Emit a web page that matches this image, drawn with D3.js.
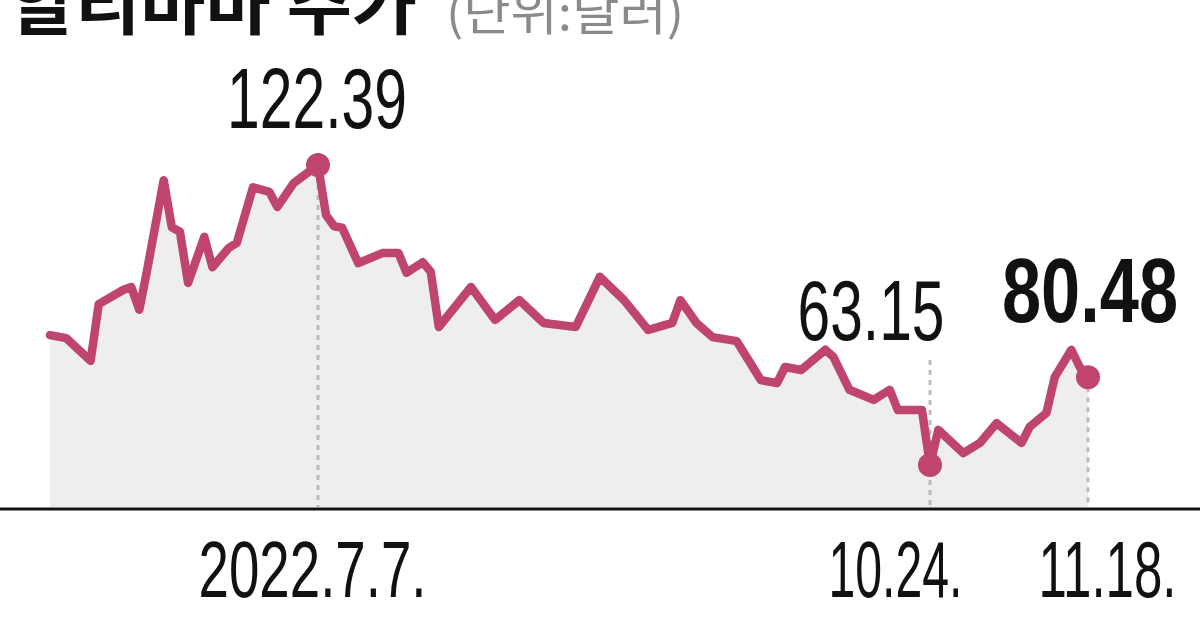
<!DOCTYPE html>
<html>
<head>
<meta charset="utf-8">
<script src="https://cdn.jsdelivr.net/npm/d3@7"></script>
<style>
  html, body { margin: 0; padding: 0; background: #fff; }
  svg { display: block; }
</style>
</head>
<body>
<svg id="chart" width="1200" height="630"></svg>
<script>
// ---- data (trading-day index since start, closing price in USD) ----
const tradeDay = [0, 2, 5, 6, 9, 10, 11, 12, 14, 15, 16, 17, 19, 20, 22, 23, 25, 27, 28, 30,
  33, 34, 35, 36, 38, 41, 43, 44, 46, 47, 48, 52, 55, 58, 61, 65, 68, 71, 74, 77, 78, 80,
  82, 85, 88, 90, 91, 93, 96, 97, 99, 102, 104, 105, 108, 109, 110, 113, 115, 117, 120,
  121, 123, 124, 126, 127, 128];
const price = [88.8, 88.2, 83.7, 94.9, 97.7, 98.3, 93.8, 102.0, 119.4, 110.1, 109.2, 99.1, 108.2, 102.2, 106.0, 107.0, 118.0, 117.1, 114.1, 118.8,
  122.39, 112.5, 110.3, 110.0, 103.0, 105.0, 105.0, 101.1, 103.2, 101.3, 90.4, 98.3, 91.8, 95.7, 91.2, 90.4, 100.3, 95.7, 89.8, 91.2, 95.7, 91.2,
  88.4, 87.6, 79.9, 79.3, 82.5, 81.9, 85.9, 84.5, 78.0, 76.0, 78.0, 74.0, 74.0, 63.15, 70.1, 65.5, 67.5, 71.4, 67.5,
  70.7, 73.4, 80.5, 85.9, 82.5, 80.48];

const tickDays = [33, 109, 128];
const tickLabels = ["2022.7.7.", "10.24.", "11.18."];

const markDays = [33, 109, 128];
const markValues = [122.39, 63.15, 80.48];
const markLabels = ["122.39", "63.15", "80.48"];

const titleMain = "알리바바 주가";
const titleUnit = "(단위:달러)";

// ---- drawing ----
const svg = d3.select("#chart");
const data = tradeDay.map((d, i) => ({ day: d, v: price[i] }));

const x = d3.scaleLinear().domain([0, 33, 109, 128]).range([50, 318, 930, 1088]);
const y = d3.scaleLinear().domain([54.85, 122.39]).range([507, 165]);

const lineColor = "#bf4570";
const numFont = "'Liberation Sans Narrow', 'Liberation Sans', Arial, sans-serif";

// area
svg.append("path")
  .datum(data)
  .attr("fill", "#eeeeee")
  .attr("d", d3.area().x(d => x(d.day)).y0(y(54.85)).y1(d => y(d.v)));

// dotted guides
const guideTop = [y(122.39), 360, y(80.48)];
svg.selectAll(".guide").data(markDays).enter().append("line")
  .attr("class", "guide")
  .attr("x1", d => x(d)).attr("x2", d => x(d))
  .attr("y1", (d, i) => guideTop[i]).attr("y2", y(54.85))
  .attr("stroke", "#bdbdbd").attr("stroke-width", 3)
  .attr("stroke-dasharray", "5,5");

// line
svg.append("path")
  .datum(data)
  .attr("fill", "none")
  .attr("stroke", lineColor)
  .attr("stroke-width", 8.5)
  .attr("stroke-linejoin", "round")
  .attr("stroke-linecap", "round")
  .attr("d", d3.line().x(d => x(d.day)).y(d => y(d.v)));

// dots
svg.selectAll(".dot").data(markDays).enter().append("circle")
  .attr("cx", d => x(d)).attr("cy", (d, i) => y(markValues[i]))
  .attr("r", 12).attr("fill", lineColor);

// annotation numbers
const markStyle = [
  { dx: -1, y: 128, size: 85, w: 180, weight: "normal" },
  { dx: -59, y: 340, size: 86, w: 147, weight: "normal" },
  { dx: 2, y: 322, size: 90, w: 176, weight: "bold" }
];
svg.selectAll(".mark").data(markLabels).enter().append("text")
  .attr("x", (d, i) => x(markDays[i]) + markStyle[i].dx)
  .attr("y", (d, i) => markStyle[i].y)
  .attr("text-anchor", "middle")
  .attr("font-family", numFont)
  .attr("font-size", (d, i) => markStyle[i].size)
  .attr("font-weight", (d, i) => markStyle[i].weight)
  .attr("textLength", (d, i) => markStyle[i].w)
  .attr("lengthAdjust", "spacingAndGlyphs")
  .attr("fill", "#111")
  .text(d => d);

// baseline
svg.append("line")
  .attr("x1", 0).attr("x2", 1200)
  .attr("y1", 509).attr("y2", 509)
  .attr("stroke", "#111").attr("stroke-width", 3);

// x axis labels
const tickStyle = [
  { dx: -6, w: 228 },
  { dx: -35, w: 134 },
  { dx: 19, w: 138 }
];
const xAxis = d3.axisBottom(x).tickValues(tickDays)
  .tickFormat((d, i) => tickLabels[i]).tickSize(0);
const gx = svg.append("g").attr("transform", "translate(0,509)").call(xAxis);
gx.select(".domain").remove();
gx.selectAll("text")
  .attr("y", 88).attr("dy", 0)
  .attr("dx", (d, i) => tickStyle[i].dx)
  .attr("font-family", numFont)
  .attr("font-size", 80)
  .attr("fill", "#111")
  .attr("textLength", (d, i) => tickStyle[i].w)
  .attr("lengthAdjust", "spacingAndGlyphs");

// title (cut off at top, as in the source)
svg.append("text")
  .attr("x", 10).attr("y", 29)
  .attr("font-family", "'Noto Sans CJK KR', sans-serif")
  .attr("font-weight", "bold")
  .attr("font-size", 66)
  .attr("fill", "#111")
  .attr("textLength", 407)
  .attr("lengthAdjust", "spacingAndGlyphs")
  .text(titleMain);
svg.append("text")
  .attr("x", 446).attr("y", 30)
  .attr("font-family", "'Noto Sans CJK KR', sans-serif")
  .attr("font-size", 48)
  .attr("fill", "#8a8a8a")
  .attr("textLength", 238)
  .attr("lengthAdjust", "spacingAndGlyphs")
  .text(titleUnit);
</script>
</body>
</html>
